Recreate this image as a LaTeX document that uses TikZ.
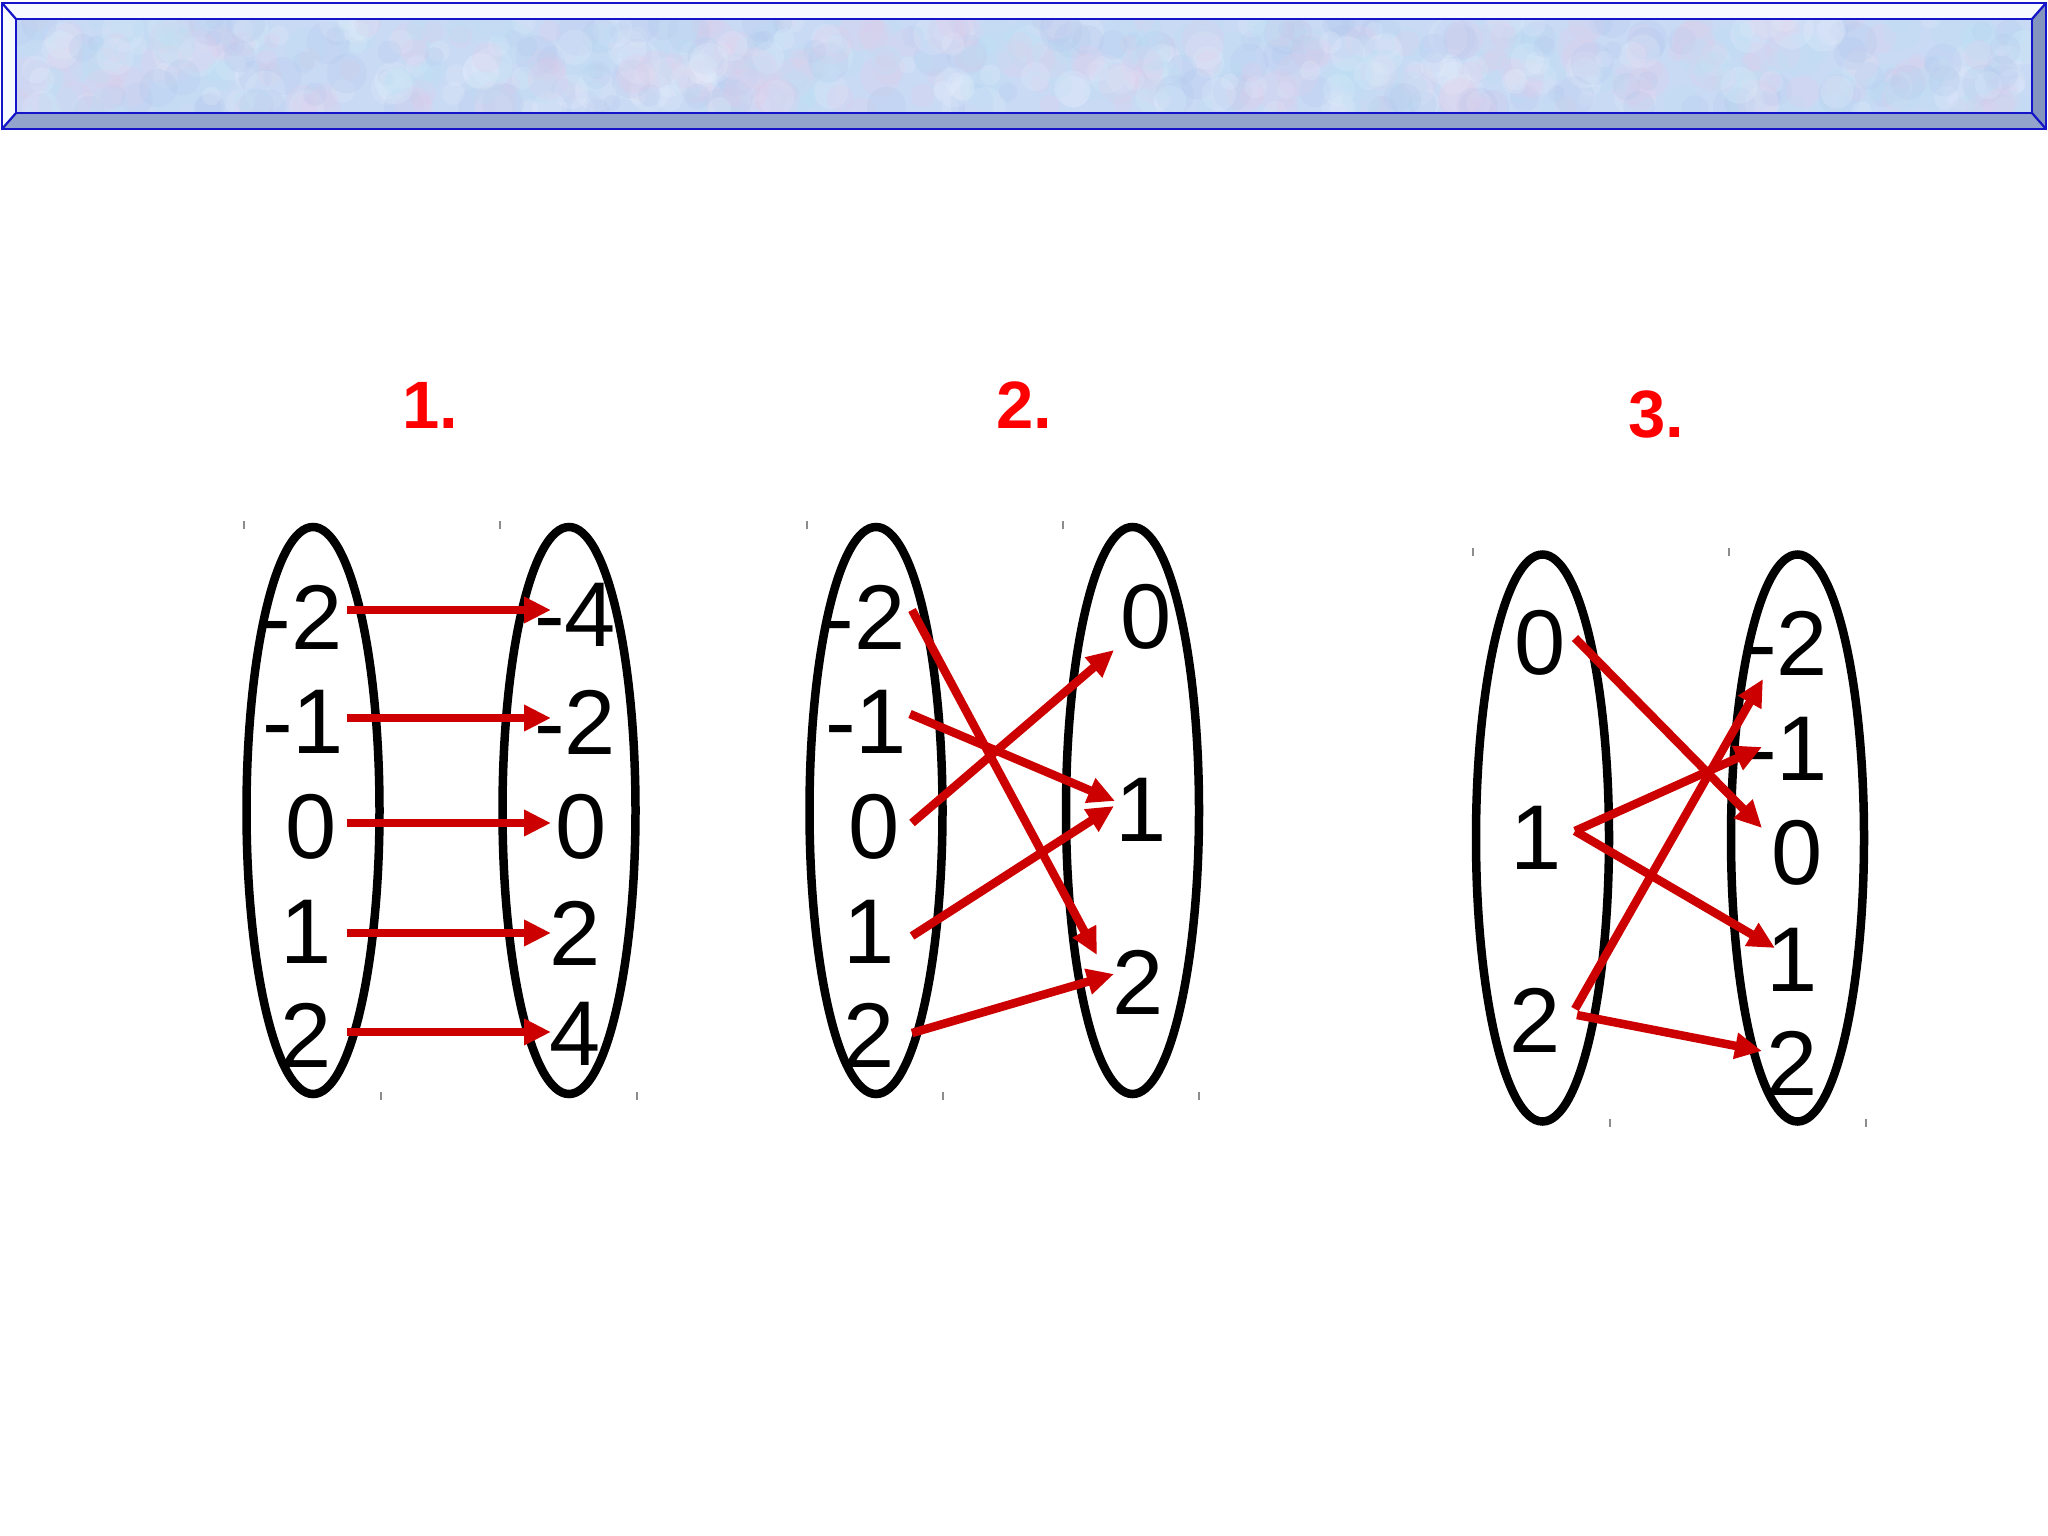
\documentclass[tikz,border=0pt]{standalone}
\usepackage{fontspec}
\setmainfont{Liberation Sans}
\usetikzlibrary{arrows.meta}
\definecolor{arrowred}{HTML}{CC0000}
\definecolor{barblue}{HTML}{1414C8}
\definecolor{barfill}{HTML}{C8DAF4}
\definecolor{blobpink}{HTML}{E4CCEA}
\definecolor{blobcyan}{HTML}{BCE2F4}
\definecolor{blobwhite}{HTML}{E8F0FC}
\definecolor{blobblue}{HTML}{B2C6EC}
\definecolor{bevtop}{HTML}{F6F9FF}
\definecolor{bevbot}{HTML}{93A4CC}
\definecolor{bevright}{HTML}{8394BE}
\begin{document}
\begin{tikzpicture}[x=1pt,y=-1pt,
  setell/.style={draw=black,line width=8.5pt},
  num/.style={inner sep=0pt,font=\fontsize{92}{100}\selectfont},
  ttl/.style={inner sep=0pt,text=red,font=\fontsize{67}{75}\selectfont\bfseries},
  maparrow/.style={draw=arrowred,line width=8.5pt,-{Triangle[length=27pt,width=25pt]}},
  tickmark/.style={draw=black!45,line width=1.5pt},
  barline/.style={draw=barblue,line width=2.2pt}]
\useasboundingbox (0,0) rectangle (2048,1536);
\fill[white] (0,0) rectangle (2048,1536);

% ---------- header bar ----------
\coordinate (oTL) at (2,3);
\coordinate (oTR) at (2046,3);
\coordinate (oBL) at (2,129);
\coordinate (oBR) at (2046,129);
\coordinate (iTL) at (16,19);
\coordinate (iTR) at (2032,19);
\coordinate (iBL) at (16,113);
\coordinate (iBR) at (2032,113);
\fill[barfill] (iTL) rectangle (iBR);
\begin{scope}
  \clip (iTL) rectangle (iBR);
  \pgfmathsetseed{11}
  \foreach \k in {1,...,700} {
    \pgfmathsetmacro{\bx}{16+2016*rnd}
    \pgfmathsetmacro{\by}{19+94*rnd}
    \pgfmathsetmacro{\br}{8+14*rnd}
    \pgfmathsetmacro{\bc}{int(4*rnd)}
    \ifcase\bc \def\blobc{blobpink}\or\def\blobc{blobcyan}\or\def\blobc{blobwhite}\else\def\blobc{blobblue}\fi
    \fill[\blobc,opacity=0.22] (\bx,\by) circle [radius=\br];
  }
\end{scope}
\fill[bevtop] (oTL) -- (oTR) -- (iTR) -- (iTL) -- cycle;
\fill[bevtop] (oTL) -- (iTL) -- (iBL) -- (oBL) -- cycle;
\fill[bevbot] (oBL) -- (iBL) -- (iBR) -- (oBR) -- cycle;
\fill[bevright] (oTR) -- (oBR) -- (iBR) -- (iTR) -- cycle;
\draw[barline] (oTL) rectangle (oBR);
\draw[barline] (iTL) rectangle (iBR);
\draw[barline] (oTL) -- (iTL) (oTR) -- (iTR) (oBL) -- (iBL) (oBR) -- (iBR);

% ---------- titles ----------
\node[ttl] (t1) at (430,405) {1.};
\node[ttl] (t2) at (1024,405) {2.};
\node[ttl] (t3) at (1656,414) {3.};

% ---------- diagram 1 ----------
\draw[setell] (313,810.5) ellipse [x radius=66.5, y radius=283.5];
\draw[setell] (569,810.5) ellipse [x radius=66.5, y radius=283.5];
\draw[tickmark] (244,521) -- (244,529) (500,521) -- (500,529)
  (381,1092) -- (381,1100) (637,1092) -- (637,1100);
\node[num] (a1) at (301.5,617) {-2};
\node[num] (a2) at (303,722) {-1};
\node[num] (a3) at (311.5,827) {0};
\node[num] (a4) at (306.5,932) {1};
\node[num] (a5) at (306.5,1035) {2};
\node[num] (b1) at (575,615) {-4};
\node[num] (b2) at (575,722) {-2};
\node[num] (b3) at (581,827) {0};
\node[num] (b4) at (575,933) {2};
\node[num] (b5) at (575,1034) {4};
\coordinate (a1s) at (347,610);  \coordinate (b1e) at (551,610);
\coordinate (a2s) at (347,718);  \coordinate (b2e) at (551,718);
\coordinate (a3s) at (347,823);  \coordinate (b3e) at (551,823);
\coordinate (a4s) at (347,933);  \coordinate (b4e) at (551,933);
\coordinate (a5s) at (347,1032); \coordinate (b5e) at (551,1032);
\draw[maparrow] (a1s) -- (b1e);
\draw[maparrow] (a2s) -- (b2e);
\draw[maparrow] (a3s) -- (b3e);
\draw[maparrow] (a4s) -- (b4e);
\draw[maparrow] (a5s) -- (b5e);

% ---------- diagram 2 ----------
\draw[setell] (876,810.5) ellipse [x radius=66.5, y radius=283.5];
\draw[setell] (1132.5,810.5) ellipse [x radius=66.5, y radius=283.5];
\draw[tickmark] (807,521) -- (807,529) (1063,521) -- (1063,529)
  (943,1092) -- (943,1100) (1199,1092) -- (1199,1100);
\node[num] (c1) at (864.5,617) {-2};
\node[num] (c2) at (866,722) {-1};
\node[num] (c3) at (874.5,827) {0};
\node[num] (c4) at (869.5,932) {1};
\node[num] (c5) at (869.5,1035) {2};
\node[num] (d1) at (1146,617) {0};
\node[num] (d2) at (1141,810) {1};
\node[num] (d3) at (1138,982) {2};
\coordinate (c1s) at (912,610);  \coordinate (c1e) at (1097,955);
\coordinate (c2s) at (910,714);  \coordinate (c2e) at (1115,801);
\coordinate (c3s) at (912,823);  \coordinate (c3e) at (1114,650);
\coordinate (c4s) at (912,936);  \coordinate (c4e) at (1114,806);
\coordinate (c5s) at (912,1033); \coordinate (c5e) at (1114,974);
\draw[maparrow] (c1s) -- (c1e);
\draw[maparrow] (c2s) -- (c2e);
\draw[maparrow] (c3s) -- (c3e);
\draw[maparrow] (c4s) -- (c4e);
\draw[maparrow] (c5s) -- (c5e);

% ---------- diagram 3 ----------
\draw[setell] (1542.5,838) ellipse [x radius=66.5, y radius=283.5];
\draw[setell] (1797.5,838) ellipse [x radius=66.5, y radius=283.5];
\draw[tickmark] (1473,548) -- (1473,556) (1729,548) -- (1729,556)
  (1610,1119) -- (1610,1127) (1866,1119) -- (1866,1127);
\node[num] (e1) at (1540,643) {0};
\node[num] (e2) at (1536,838) {1};
\node[num] (e3) at (1535,1020) {2};
\node[num] (f1) at (1787,643) {-2};
\node[num] (f2) at (1787,749) {-1};
\node[num] (f3) at (1797,853) {0};
\node[num] (f4) at (1792,960) {1};
\node[num] (f5) at (1792,1063) {2};
\coordinate (e1s) at (1575,638);  \coordinate (f3e) at (1762,828);
\coordinate (e2s) at (1575,831);  \coordinate (f2e) at (1762,747);
\coordinate (f4e) at (1775,948);
\coordinate (e3s) at (1575,1009); \coordinate (f1e) at (1763,679);
\coordinate (e3t) at (1577,1015); \coordinate (f5e) at (1762,1051);
\draw[maparrow] (e1s) -- (f3e);
\draw[maparrow] (e2s) -- (f2e);
\draw[maparrow] (e2s) -- (f4e);
\draw[maparrow] (e3s) -- (f1e);
\draw[maparrow] (e3t) -- (f5e);
\end{tikzpicture}
\end{document}
